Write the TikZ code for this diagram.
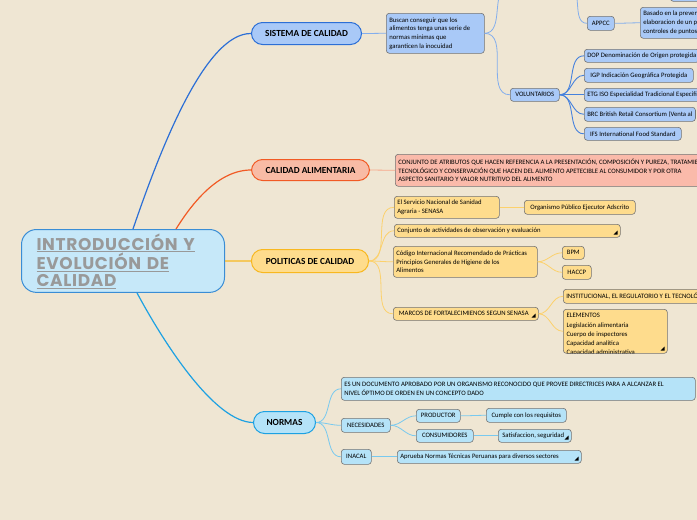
\documentclass[tikz,border=0pt]{standalone}
\usepackage{fontspec}
\setmainfont{Carlito}
\newfontfamily\titlefont{Poppins}[LetterSpace=4]
\definecolor{bg}{HTML}{EFE6D3}
\definecolor{cenfill}{HTML}{C6E8F9}
\definecolor{cendraw}{HTML}{3A8DD5}
\definecolor{sisfill}{HTML}{A9C9F7}
\definecolor{sisdraw}{HTML}{2C6FD6}
\definecolor{alifill}{HTML}{F8BBA5}
\definecolor{alidraw}{HTML}{F15A24}
\definecolor{polfill}{HTML}{FEDC8D}
\definecolor{poldraw}{HTML}{F8B820}
\definecolor{norfill}{HTML}{B5E3F8}
\definecolor{nordraw}{HTML}{1DA1E2}
\newcommand\fold[1]{\fill[shift={(#1.south east)}] (-7,-3) -- (-3,-3) -- (-3,-7) -- cycle;}
\begin{document}
\begin{tikzpicture}[x=1pt,y=-1pt,
  box/.style={draw=black!55,rounded corners=3pt,inner xsep=3pt,inner ysep=1pt,anchor=north west,
    align=flush left,font=\fontsize{6.7}{8.7}\selectfont,line width=0.6pt},
  sis/.style={box,fill=sisfill},
  ali/.style={box,fill=alifill!90!red!80!white},
  pol/.style={box,fill=polfill},
  nor/.style={box,fill=norfill},
  main/.style={rounded corners=11pt,line width=1pt,anchor=north west,inner sep=0pt,
    font=\bfseries\fontsize{9.3}{11}\selectfont},
  sz/.style 2 args={minimum width=#1,minimum height=#2},
  link/.style={out=0,in=180},
  sisline/.style={draw=sisfill!70!sisdraw,line width=0.8pt},
  volline/.style={draw=sisdraw!80!sisfill,line width=0.9pt},
  aliline/.style={draw=alifill!80!alidraw,line width=0.8pt},
  polline/.style={draw=polfill!70!poldraw,line width=0.8pt},
  norline/.style={draw=norfill!60!nordraw,line width=0.8pt}]
  \useasboundingbox (0,0) rectangle (697,520);
  \fill[bg] (0,0) rectangle (697,520);
  \clip (0,0) rectangle (697,520);
  % NODES
  \node[fill=cenfill,draw=cendraw,line width=1pt,rounded corners=15pt,anchor=north west,
    inner xsep=15pt,inner ysep=4pt,text width=173pt,minimum height=61pt,align=left,
    text=black!40,font=\titlefont\bfseries\fontsize{17}{16.5}\selectfont]
    (central) at (21,229) {\underline{INTRODUCCIÓN Y}\\\underline{EVOLUCIÓN DE}\\\underline{CALIDAD}};
  \node[main,fill=sisfill,draw=sisdraw,sz={110pt}{22pt}] (sistema) at (251,22) {SISTEMA DE CALIDAD};
  \node[main,fill=alifill,draw=alidraw,sz={118pt}{21pt}] (alimentaria) at (251,159) {CALIDAD ALIMENTARIA};
  \node[main,fill=polfill,draw=poldraw,sz={117pt}{23pt}] (politicas) at (251,249) {POLITICAS DE CALIDAD};
  \node[main,fill=norfill,draw=nordraw,sz={62pt}{22pt}] (normas) at (253,411) {NORMAS};
  % sistema de calidad
  \coordinate (oblw) at (510,-14);
  \coordinate (oble) at (568,-14);
  \node[sis,sz={98pt}{40pt},text width=92pt] (buscan) at (386,13)
    {Buscan conseguir que los\\alimentos tenga unas serie de\\normas mínimas que\\garanticen la inocuidad};
  \node[sis,sz={60pt}{21pt}] (topbox) at (670,-20) {};
  \node[sis,sz={27pt}{14pt}] (appcc) at (587,16) {APPCC};
  \node[sis,minimum height=31pt] (basado) at (640,7)
    {Basado en la prevención y\\elaboracion de un plan de\\controles de puntos críticos};
  \node[sis,sz={49pt}{13pt}] (voluntarios) at (510,88) {VOLUNTARIOS};
  \node[sis,minimum height=13pt] (dop) at (584,49) {DOP Denominación de Origen protegida};
  \node[sis,sz={109pt}{14pt}] (igp) at (584,68) {IGP Indicación Geográfica Protegida};
  \node[sis,minimum height=13pt] (etg) at (584,88) {ETG ISO Especialidad Tradicional Especifica};
  \node[sis,minimum height=14pt] (brc) at (584,107) {BRC British Retail Consortium (Venta al};
  \node[sis,sz={97pt}{13pt}] (ifs) at (584,127) {IFS International Food Standard};
  % calidad alimentaria
  \node[ali,minimum height=32pt] (conjuntoatr) at (395,154)
    {CONJUNTO DE ATRIBUTOS QUE HACEN REFERENCIA A LA PRESENTACIÓN, COMPOSICIÓN Y PUREZA, TRATAMIENTO\\
     TECNOLÓGICO Y CONSERVACIÓN QUE HACEN DEL ALIMENTO APETECIBLE AL CONSUMIDOR Y POR OTRA\\
     ASPECTO SANITARIO Y VALOR NUTRITIVO DEL ALIMENTO};
  % politicas de calidad
  \node[pol,sz={105pt}{22pt},text width=99pt] (senasa) at (394,196) {El Servicio Nacional de Sanidad\\Agraria - SENASA};
  \node[pol,sz={111pt}{14pt}] (organismo) at (524,200) {Organismo Público Ejecutor Adscrito};
  \node[pol,sz={226pt}{13pt},text width=220pt] (conjunto) at (394,224) {Conjunto de actividades de observación y evaluación};
  \node[pol,sz={144pt}{31pt},text width=138pt] (codigo) at (393,246)
    {Código Internacional Recomendado de Prácticas\\Principios Generales de Higiene de los\\Alimentos};
  \node[pol,sz={22pt}{13pt}] (bpm) at (562,246) {BPM};
  \node[pol,sz={29pt}{14pt}] (haccp) at (562,265) {HACCP};
  \node[pol,sz={145pt}{13pt}] (marcos) at (393,307) {MARCOS DE FORTALECIMIENOS SEGUN SENASA\hspace{4pt}};
  \node[pol,minimum height=14pt] (institucional) at (563,289) {INSTITUCIONAL, EL REGULATORIO Y EL TECNOLÓGICO};
  \node[pol,sz={104pt}{44pt},inner sep=0pt,
    path picture={\node[anchor=north west,align=left,font=\fontsize{6.7}{9.2}\selectfont,
      minimum width=0pt,minimum height=0pt,inner xsep=3pt,inner ysep=4pt]
      at (path picture bounding box.north west)
      {ELEMENTOS\\Legislación alimentaria\\Cuerpo de inspectores\\Capacidad analítica\\Capacidad administrativa};}]
    (elementos) at (563,309) {};
  % normas
  \node[nor,sz={354pt}{23pt},text width=348pt] (documento) at (341,377)
    {ES UN DOCUMENTO APROBADO POR UN ORGANISMO RECONOCIDO QUE PROVEE DIRECTRICES PARA A ALCANZAR EL\\
     NIVEL ÓPTIMO DE ORDEN EN UN CONCEPTO DADO};
  \node[nor,sz={49pt}{14pt}] (necesidades) at (341,418) {NECESIDADES};
  \node[nor,sz={44pt}{13pt}] (productor) at (416,409) {PRODUCTOR};
  \node[nor,sz={57pt}{13pt}] (consumidores) at (416,429) {CONSUMIDORES};
  \node[nor,sz={80pt}{14pt}] (cumple) at (486,408) {Cumple con los requisitos};
  \node[nor,sz={73pt}{13pt}] (satisfaccion) at (498,429) {Satisfaccion, seguridad\hspace{3pt}};
  \node[nor,sz={30pt}{15pt}] (inacal) at (341,449) {INACAL};
  \node[nor,sz={184pt}{13pt},text width=178pt] (aprueba) at (397,450) {Aprueba Normas Técnicas Peruanas para diversos sectores};
  \fold{conjunto} \fold{marcos} \fold{elementos} \fold{satisfaccion} \fold{aprueba}
  % PATHS
  \draw[draw=sisdraw,line width=1.2pt] ([xshift=10pt]central.north) .. controls (160,150) and (205,33) .. (sistema.west);
  \draw[draw=alidraw,line width=1.2pt] ([xshift=53pt]central.north) .. controls (188,210) and (215,170) .. (alimentaria.west);
  \draw[draw=poldraw,line width=1.2pt] (central.east) -- (politicas.west);
  \draw[draw=nordraw,line width=1.2pt] ([xshift=14pt]central.south) .. controls (165,345) and (215,422) .. (normas.west);
  \path[sisline]
   (sistema.east) edge[link] (buscan.west)
   (buscan.east) edge[link] (oblw)
                 edge[link] (voluntarios.west)
   (oble) edge[link] (appcc.west)
   (appcc.east) edge[link] (basado.west);
  \path[volline]
   (voluntarios.east) edge[link] (dop.west)
                      edge[link] (igp.west)
                      edge[link] (etg.west)
                      edge[link] (brc.west)
                      edge[link] (ifs.west);
  \path[aliline]
   (alimentaria.east) edge (conjuntoatr.west);
  \path[polline]
   (politicas.east) edge[link] (senasa.west)
                    edge[link] (conjunto.west)
                    edge[link] (codigo.west)
                    edge[link] (marcos.west)
   (senasa.east) edge[link] (organismo.west)
   (codigo.east) edge[link] (bpm.west)
                 edge[link] (haccp.west)
   (marcos.east) edge[link] (institucional.west)
                 edge[link] (elementos.west);
  \path[norline]
   (normas.east) edge[link] (documento.west)
                 edge[link] (necesidades.west)
                 edge[link] (inacal.west)
   (necesidades.east) edge[link] (productor.west)
                      edge[link] (consumidores.west)
   (productor.east) edge[link] (cumple.west)
   (consumidores.east) edge[link] (satisfaccion.west)
   (inacal.east) edge[link] (aprueba.west);
\end{tikzpicture}
\end{document}
